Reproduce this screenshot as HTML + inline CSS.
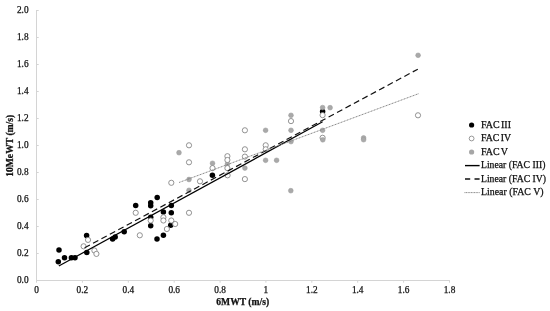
<!DOCTYPE html>
<html><head><meta charset="utf-8"><title>Chart</title>
<style>
html,body{margin:0;padding:0;background:#fff;}
body{width:550px;height:311px;overflow:hidden;}
svg{display:block;}
text{font-family:"Liberation Serif",serif;fill:#111;stroke:#111;stroke-width:0.25px;}
.t{font-size:9.3px;}
.b{font-size:9.3px;font-weight:bold;}
</style></head><body>
<svg width="550" height="311" viewBox="0 0 550 311">
<rect width="550" height="311" fill="#fff"/>

<g stroke="#d4d4d4" stroke-width="1" fill="none">
<path d="M36.5 10 V282.7"/>
<path d="M36 280.5 H449.9"/>
<path d="M36.5 280.5 h2.2"/>
<path d="M36.5 253.5 h2.2"/>
<path d="M36.5 226.5 h2.2"/>
<path d="M36.5 199.5 h2.2"/>
<path d="M36.5 172.5 h2.2"/>
<path d="M36.5 145.5 h2.2"/>
<path d="M36.5 118.5 h2.2"/>
<path d="M36.5 91.5 h2.2"/>
<path d="M36.5 64.5 h2.2"/>
<path d="M36.5 37.5 h2.2"/>
<path d="M36.5 10.5 h2.2"/>
<path d="M82.4 280.5 v2.2"/>
<path d="M128.3 280.5 v2.2"/>
<path d="M174.2 280.5 v2.2"/>
<path d="M220.1 280.5 v2.2"/>
<path d="M265.9 280.5 v2.2"/>
<path d="M311.8 280.5 v2.2"/>
<path d="M357.7 280.5 v2.2"/>
<path d="M403.6 280.5 v2.2"/>
<path d="M449.5 280.5 v2.2"/>
</g>
<g class="t" text-anchor="end">
<text x="28.6" y="283.2">0.0</text>
<text x="28.6" y="256.2">0.2</text>
<text x="28.6" y="229.2">0.4</text>
<text x="28.6" y="202.2">0.6</text>
<text x="28.6" y="175.2">0.8</text>
<text x="28.6" y="148.2">1.0</text>
<text x="28.6" y="121.2">1.2</text>
<text x="28.6" y="94.2">1.4</text>
<text x="28.6" y="67.2">1.6</text>
<text x="28.6" y="40.2">1.8</text>
<text x="28.6" y="13.2">2.0</text>
</g>
<g class="t" text-anchor="middle">
<text x="36.5" y="293.2">0</text>
<text x="82.4" y="293.2">0.2</text>
<text x="128.3" y="293.2">0.4</text>
<text x="174.2" y="293.2">0.6</text>
<text x="220.1" y="293.2">0.8</text>
<text x="265.9" y="293.2">1</text>
<text x="311.8" y="293.2">1.2</text>
<text x="357.7" y="293.2">1.4</text>
<text x="403.6" y="293.2">1.6</text>
<text x="449.5" y="293.2">1.8</text>
</g>
<text class="b" x="242.7" y="304.7" text-anchor="middle" textLength="52.8" lengthAdjust="spacingAndGlyphs">6MWT (m/s)</text>
<text class="b" transform="translate(12.8 145.8) rotate(-90)" text-anchor="middle" textLength="62" lengthAdjust="spacingAndGlyphs">10MeWT (m/s)</text>
<g fill="#000">
<circle cx="58.3" cy="261.8" r="2.75"/>
<circle cx="59" cy="250.1" r="2.75"/>
<circle cx="64.5" cy="257.8" r="2.75"/>
<circle cx="71.4" cy="257.7" r="2.75"/>
<circle cx="75" cy="257.7" r="2.75"/>
<circle cx="86.8" cy="252.4" r="2.75"/>
<circle cx="86.6" cy="235.6" r="2.75"/>
<circle cx="112.6" cy="239.1" r="2.75"/>
<circle cx="115.2" cy="236.9" r="2.75"/>
<circle cx="124.2" cy="231.7" r="2.75"/>
<circle cx="135.7" cy="205.4" r="2.75"/>
<circle cx="150.7" cy="202.8" r="2.75"/>
<circle cx="150.7" cy="205.7" r="2.75"/>
<circle cx="157.2" cy="197.6" r="2.75"/>
<circle cx="150.7" cy="217.3" r="2.75"/>
<circle cx="150.7" cy="225.7" r="2.75"/>
<circle cx="171.3" cy="205.4" r="2.75"/>
<circle cx="171.3" cy="212.8" r="2.75"/>
<circle cx="163.4" cy="211.9" r="2.75"/>
<circle cx="170.7" cy="225.3" r="2.75"/>
<circle cx="163.4" cy="235.3" r="2.75"/>
<circle cx="157" cy="238.9" r="2.75"/>
<circle cx="212.4" cy="175.3" r="2.75"/>
<circle cx="322.6" cy="111.6" r="2.75"/>
</g>
<g fill="#a9a9a9" stroke="#999" stroke-width="0.5">
<circle cx="179" cy="152.7" r="2.4"/>
<circle cx="189" cy="179.5" r="2.4"/>
<circle cx="189" cy="190.3" r="2.4"/>
<circle cx="212.5" cy="163.3" r="2.4"/>
<circle cx="227.4" cy="164.1" r="2.4"/>
<circle cx="244.9" cy="168.1" r="2.4"/>
<circle cx="265.6" cy="130.3" r="2.4"/>
<circle cx="265.6" cy="160.3" r="2.4"/>
<circle cx="276.6" cy="160.3" r="2.4"/>
<circle cx="290.8" cy="190.7" r="2.4"/>
<circle cx="291" cy="115.3" r="2.4"/>
<circle cx="291" cy="130.3" r="2.4"/>
<circle cx="291" cy="141.6" r="2.4"/>
<circle cx="322.6" cy="107.6" r="2.4"/>
<circle cx="330.1" cy="107.7" r="2.4"/>
<circle cx="322.6" cy="130.3" r="2.4"/>
<circle cx="363.6" cy="137.9" r="2.4"/>
<circle cx="363.6" cy="139.7" r="2.4"/>
<circle cx="418.1" cy="55.3" r="2.4"/>
</g>
<g fill="#fff" stroke="#7f7f7f" stroke-width="0.85">
<circle cx="88" cy="239.9" r="2.6"/>
<circle cx="83.6" cy="246.3" r="2.6"/>
<circle cx="94.4" cy="250.5" r="2.6"/>
<circle cx="96.4" cy="253.9" r="2.6"/>
<circle cx="139.8" cy="235.3" r="2.6"/>
<circle cx="135.7" cy="212.8" r="2.6"/>
<circle cx="150.7" cy="220.5" r="2.6"/>
<circle cx="163.4" cy="217.3" r="2.6"/>
<circle cx="163.4" cy="220.5" r="2.6"/>
<circle cx="171.3" cy="220.5" r="2.6"/>
<circle cx="175.2" cy="224.0" r="2.6"/>
<circle cx="166.9" cy="229.0" r="2.6"/>
<circle cx="189" cy="212.8" r="2.6"/>
<circle cx="171.3" cy="182.8" r="2.6"/>
<circle cx="200" cy="181.3" r="2.6"/>
<circle cx="189" cy="145.3" r="2.6"/>
<circle cx="189" cy="162.3" r="2.6"/>
<circle cx="212.5" cy="168.1" r="2.6"/>
<circle cx="227.4" cy="156.2" r="2.6"/>
<circle cx="227.4" cy="160.0" r="2.6"/>
<circle cx="227.4" cy="168.1" r="2.6"/>
<circle cx="227.6" cy="175.3" r="2.6"/>
<circle cx="244.9" cy="130.3" r="2.6"/>
<circle cx="244.9" cy="149.3" r="2.6"/>
<circle cx="244.9" cy="156.6" r="2.6"/>
<circle cx="244.9" cy="179.1" r="2.6"/>
<circle cx="265.7" cy="145.3" r="2.6"/>
<circle cx="265.7" cy="149.3" r="2.6"/>
<circle cx="291" cy="121.1" r="2.6"/>
<circle cx="322.6" cy="115.1" r="2.6"/>
<circle cx="322.6" cy="137.8" r="2.6"/>
<circle cx="418" cy="115.3" r="2.6"/>
</g>
<circle cx="322.8" cy="139.8" r="2.4" fill="#a9a9a9" stroke="#999" stroke-width="0.5"/>
<path d="M58.8 266 L322.6 121.8" stroke="#000" stroke-width="1.2" fill="none"/>
<path d="M84.6 247.8 L417.8 69.2" stroke="#111" stroke-width="1.2" stroke-dasharray="6 3.547" fill="none"/>
<path d="M179 182.5 L418.8 93.6" stroke="#7c7c7c" stroke-width="0.95" stroke-dasharray="1 0.6" fill="none"/>
<circle cx="471.6" cy="125" r="2.6" fill="#000"/>
<circle cx="471.6" cy="138.5" r="2.4" fill="#fff" stroke="#7f7f7f" stroke-width="0.8"/>
<circle cx="471.6" cy="152" r="2.6" fill="#a6a6a6"/>
<path d="M465 165.6 H479.6" stroke="#000" stroke-width="1.4"/>
<path d="M465 179 H479.6" stroke="#111" stroke-width="1.4" stroke-dasharray="5.2 4.3"/>
<path d="M464.5 192.6 H479.6" stroke="#7c7c7c" stroke-width="0.95" stroke-dasharray="1 0.6"/>
<g class="t">
<text x="481" y="127.7" textLength="30" lengthAdjust="spacingAndGlyphs" style="word-spacing:-1.1px">FAC III</text>
<text x="481" y="141.1" textLength="30" lengthAdjust="spacingAndGlyphs" style="word-spacing:-1.1px">FAC IV</text>
<text x="481" y="154.6" textLength="27" lengthAdjust="spacingAndGlyphs" style="word-spacing:-1.1px">FAC V</text>
<text x="481" y="168.1" textLength="64.4" lengthAdjust="spacingAndGlyphs">Linear (FAC III)</text>
<text x="481" y="181.5" textLength="65" lengthAdjust="spacingAndGlyphs">Linear (FAC IV)</text>
<text x="481" y="195" textLength="62.6" lengthAdjust="spacingAndGlyphs">Linear (FAC V)</text>
</g>
</svg></body></html>
